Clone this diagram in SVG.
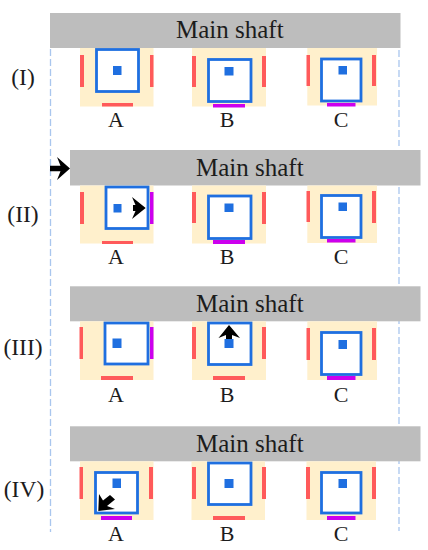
<svg xmlns="http://www.w3.org/2000/svg" width="428" height="550" viewBox="0 0 428 550">
<style>
text{font-family:"Liberation Serif","Times New Roman",serif;fill:#1c1c1c}
.shaft{fill:#bdbdbd}
.t{font-size:25px}
.l{font-size:22px;text-anchor:middle}
.r{font-size:23.5px;text-anchor:middle}
.p{fill:#fff0cc}
.red{fill:#ff5a5a}
.mag{fill:#cc00ee}
.box{fill:#fff;stroke:#1f6fe0;stroke-width:2.8}
.dot{fill:#1f6fe0}
.dash{fill:none;stroke:#a9c6ee;stroke-width:1.3;stroke-dasharray:7 3}
.arrow{fill:#000}
</style>
<rect width="428" height="550" fill="#fff"/>
<g id="connectors">
<path class="dash" d="M50.5 49V532"/>
<path class="dash" d="M399 50V146"/>
<path class="dash" d="M399 187V531"/>
</g>
<g id="row1">
<g id="shaft1"><rect class="shaft" x="50" y="13" width="350.5" height="35"/><text class="t" x="176" y="38">Main shaft</text></g>
<text class="r" x="23" y="85">(I)</text>
<g id="A1"><rect class="p" x="80" y="48" width="73.5" height="58.5"/><rect class="red" x="80" y="55" width="4" height="32"/><rect class="red" x="150" y="55" width="3.5" height="32"/><rect class="red" x="102" y="103" width="31" height="3.5"/><rect class="box" x="96.5" y="49.5" width="42" height="42"/><rect class="dot" x="113" y="66" width="8.5" height="9"/><text class="l" x="116" y="126.5">A</text></g>
<g id="B1"><rect class="p" x="192" y="48" width="74" height="58.5"/><rect class="red" x="192" y="56" width="4" height="31"/><rect class="red" x="262" y="56" width="4" height="31"/><rect class="mag" x="213" y="104" width="32" height="3.5"/><rect class="box" x="208.5" y="59.5" width="42.5" height="42"/><rect class="dot" x="224.5" y="67" width="9" height="8.5"/><text class="l" x="227" y="126.5">B</text></g>
<g id="C1"><rect class="p" x="307.3" y="48" width="69.7" height="57.5"/><rect class="red" x="306.5" y="55" width="3.5" height="31"/><rect class="red" x="372" y="55" width="4" height="31"/><rect class="mag" x="327" y="103" width="28.5" height="3.5"/><rect class="box" x="321.5" y="59" width="39.5" height="42"/><rect class="dot" x="338.5" y="66" width="8.5" height="8.5"/><text class="l" x="341" y="126.5">C</text></g>
</g>
<g id="row2">
<g id="shaft2"><rect class="shaft" x="70" y="150" width="350.5" height="35.5"/><text class="t" x="196" y="175.5">Main shaft</text></g>
<text class="r" x="23" y="222">(II)</text>
<g id="A2"><rect class="p" x="80" y="185.5" width="73.5" height="58"/><rect class="red" x="80" y="192" width="4" height="32"/><rect class="mag" x="150" y="192" width="3.5" height="32"/><rect class="red" x="102" y="241" width="31" height="3"/><rect class="box" x="106" y="187" width="42" height="41.5"/><rect class="dot" x="113.5" y="204" width="8" height="8.5"/><text class="l" x="116" y="264">A</text></g>
<g id="B2"><rect class="p" x="192" y="185.5" width="74" height="58"/><rect class="red" x="192" y="192" width="4" height="31"/><rect class="red" x="262" y="192" width="4" height="32"/><rect class="mag" x="213" y="240" width="32" height="4"/><rect class="box" x="208.5" y="196" width="42.5" height="42.5"/><rect class="dot" x="224.5" y="203.5" width="9" height="8.5"/><text class="l" x="227" y="264">B</text></g>
<g id="C2"><rect class="p" x="307.3" y="185.5" width="69.7" height="57.5"/><rect class="red" x="306.5" y="191" width="3.5" height="31"/><rect class="red" x="372" y="191" width="4" height="32"/><rect class="mag" x="327" y="239" width="28.5" height="3.5"/><rect class="box" x="321.5" y="195.5" width="39.5" height="42"/><rect class="dot" x="338.5" y="202.5" width="8.5" height="8.5"/><text class="l" x="341" y="264">C</text></g>
</g>
<g id="row3">
<g id="shaft3"><rect class="shaft" x="70" y="286.3" width="350.5" height="35"/><text class="t" x="196" y="311.7">Main shaft</text></g>
<text class="r" x="23" y="355">(III)</text>
<g id="A3"><rect class="p" x="80" y="321.3" width="73.5" height="58.7"/><rect class="red" x="79.5" y="327" width="3.5" height="32"/><rect class="mag" x="150" y="327" width="3.5" height="32"/><rect class="red" x="101" y="376" width="32" height="4"/><rect class="box" x="105" y="323" width="43" height="41"/><rect class="dot" x="112.5" y="338.5" width="9" height="9.5"/><text class="l" x="116" y="401.5">A</text></g>
<g id="B3"><rect class="p" x="192" y="321.3" width="74" height="58.7"/><rect class="red" x="192" y="327" width="4" height="32"/><rect class="red" x="262" y="327" width="4" height="32"/><rect class="red" x="213" y="376" width="32" height="4"/><rect class="box" x="208.5" y="323" width="42.5" height="41.5"/><rect class="dot" x="224.5" y="339" width="9" height="9"/><text class="l" x="227" y="401.5">B</text></g>
<g id="C3"><rect class="p" x="307.3" y="321.3" width="69.7" height="58.7"/><rect class="red" x="306.5" y="328" width="3.5" height="32"/><rect class="red" x="372" y="328" width="4" height="32"/><rect class="mag" x="327" y="376" width="28.5" height="4"/><rect class="box" x="321.5" y="332.5" width="39.5" height="42"/><rect class="dot" x="338.5" y="340" width="8.5" height="9"/><text class="l" x="341" y="401.5">C</text></g>
</g>
<g id="row4">
<g id="shaft4"><rect class="shaft" x="70" y="426.3" width="350.5" height="35"/><text class="t" x="196" y="451.7">Main shaft</text></g>
<text class="r" x="24" y="497">(IV)</text>
<g id="A4"><rect class="p" x="80" y="461.3" width="73.5" height="58.7"/><rect class="red" x="79.5" y="467" width="3.5" height="32"/><rect class="red" x="149" y="467" width="4" height="32"/><rect class="mag" x="101" y="516" width="31" height="4"/><rect class="box" x="95.5" y="472.5" width="42" height="40.5"/><rect class="dot" x="112.5" y="478.5" width="8.5" height="9.5"/><text class="l" x="116" y="540.5">A</text></g>
<g id="B4"><rect class="p" x="191.5" y="461.3" width="73.5" height="58.7"/><rect class="red" x="192" y="467" width="4" height="32"/><rect class="red" x="262" y="467" width="4" height="32"/><rect class="red" x="213" y="516" width="32" height="4"/><rect class="box" x="208.5" y="463" width="42.5" height="41.5"/><rect class="dot" x="224.5" y="479" width="9" height="9"/><text class="l" x="227" y="540.5">B</text></g>
<g id="C4"><rect class="p" x="306.5" y="461.3" width="69.5" height="58.7"/><rect class="red" x="306" y="467" width="4" height="32"/><rect class="red" x="372" y="467" width="4" height="32"/><rect class="mag" x="327" y="516" width="28.5" height="4"/><rect class="box" x="321.5" y="472.5" width="39.5" height="40.5"/><rect class="dot" x="338.5" y="479" width="8.5" height="9"/><text class="l" x="341" y="540.5">C</text></g>
</g>
<g id="arrows">
<path class="arrow" d="M70 168.5L57 180L60.5 171.3H50V165.7H60.5L57 157Z"/>
<path class="arrow" d="M145.7 208L132 219L135.5 211H133V205H135.5L132 197Z"/>
<path class="arrow" d="M229 325L240 338L232 335V339H226V335L218.5 338Z"/>
<path class="arrow" d="M98.3 511L99 494L103 500.5L110 495L115 499.5L107 506L115 509Z"/>
</g>
</svg>
